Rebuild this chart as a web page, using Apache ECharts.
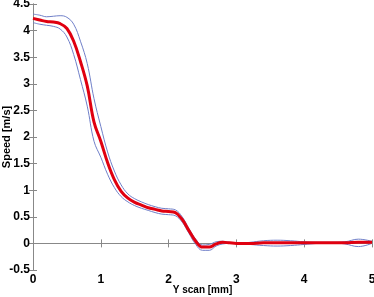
<!DOCTYPE html>
<html><head><meta charset="utf-8">
<script src="https://cdn.jsdelivr.net/npm/echarts@6/dist/echarts.min.js"></script>
<style>html,body{margin:0;padding:0;background:#fff}#c{width:374px;height:297px}</style>
</head><body><div id="c"></div>
<script>
const xs    = [0,0.1,0.2,0.3,0.4,0.5,0.6,0.7,0.8,0.9,1.0,1.1,1.2,1.3,1.4,1.5,1.6,1.7,1.8,1.9,2.0,2.1,2.2,2.3,2.4,2.5,2.6,2.7,2.8,2.9,3.0,3.2,3.4,3.6,3.8,4.0,4.2,4.4,4.6,4.8,5.0];
const meanV = [4.23,4.20,4.17,4.16,4.13,4.04,3.80,3.42,2.96,2.28,1.92,1.52,1.20,0.98,0.85,0.77,0.72,0.67,0.64,0.61,0.60,0.58,0.45,0.24,0.04,-0.07,-0.07,-0.01,0.02,0.01,0.00,0.00,0.01,0.01,0.01,0.01,0.01,0.01,0.01,0.02,0.02];
const upperV= [4.31,4.29,4.26,4.27,4.28,4.25,4.12,3.80,3.38,2.72,2.20,1.72,1.36,1.10,0.93,0.84,0.78,0.73,0.69,0.66,0.65,0.63,0.50,0.28,0.08,-0.03,-0.02,0.03,0.04,0.02,0.00,0.02,0.05,0.06,0.05,0.03,0.02,0.02,0.03,0.08,0.04];
const lowerV= [4.15,4.12,4.10,4.08,4.03,3.88,3.55,3.08,2.58,1.92,1.62,1.30,1.05,0.88,0.78,0.71,0.66,0.62,0.58,0.55,0.54,0.52,0.40,0.19,-0.02,-0.13,-0.13,-0.05,-0.01,0.00,0.00,-0.02,-0.04,-0.05,-0.04,-0.02,0.00,0.01,-0.01,-0.06,0.00];
const xTicks = [0,1,2,3,4,5];
const yTicks = [-0.5,0,0.5,1,1.5,2,2.5,3,3.5,4,4.5];
const xName = 'Y scan [mm]';
const yName = 'Speed [m/s]';

const pairs = v => xs.map((x,i)=>[x,v[i]]);
const chart = echarts.init(document.getElementById('c'));
const lblFont = {color:'#000', fontFamily:'Liberation Sans, Arial', fontWeight:'bold', fontSize:12};
const axLine = {show:true, lineStyle:{color:'#888', width:1}};
const tick = {show:true, inside:true, length:4, lineStyle:{color:'#888'}};
chart.setOption({
  animation:false,
  grid:{left:33, right:2, top:4, bottom:27, containLabel:false, outerBoundsMode:'none'},
  xAxis:[
    {type:'value', min:0, max:5, interval:1, axisLine:axLine, axisTick:tick, splitLine:{show:false},
     axisLabel:Object.assign({margin:4, formatter:v=>xTicks.includes(v)?String(v):''}, lblFont),
     name:xName, nameLocation:'middle', nameGap:15, nameMoveOverlap:false,
     nameTextStyle:{color:'#000', fontFamily:'Liberation Sans, Arial', fontWeight:'bold', fontSize:10}},
    {type:'value', position:'top', min:0, max:5, interval:1, axisLine:axLine, axisTick:tick, axisLabel:{show:false}, splitLine:{show:false}}
  ],
  yAxis:[
    {type:'value', min:-0.5, max:4.5, interval:0.5, axisLine:axLine, axisTick:tick, splitLine:{show:false},
     axisLabel:Object.assign({margin:3, formatter:v=>yTicks.some(t=>Math.abs(t-v)<1e-9)?String(Math.round(v*10)/10):''}, lblFont),
     name:yName, nameLocation:'middle', nameGap:21, nameMoveOverlap:false,
     nameTextStyle:{color:'#000', fontFamily:'Liberation Sans, Arial', fontWeight:'bold', fontSize:11}},
    {type:'value', position:'right', min:-0.5, max:4.5, interval:0.5, axisLine:axLine, axisTick:tick, axisLabel:{show:false}, splitLine:{show:false}}
  ],
  series:[
    {type:'line', data:pairs(upperV), smooth:0.4, symbol:'none', lineStyle:{color:'#6f7fc8', width:1}},
    {type:'line', data:pairs(lowerV), smooth:0.4, symbol:'none', lineStyle:{color:'#6f7fc8', width:1}},
    {type:'line', data:pairs(meanV), smooth:0.4, symbol:'none', lineStyle:{color:'#e00010', width:3}}
  ]
});
</script></body></html>
